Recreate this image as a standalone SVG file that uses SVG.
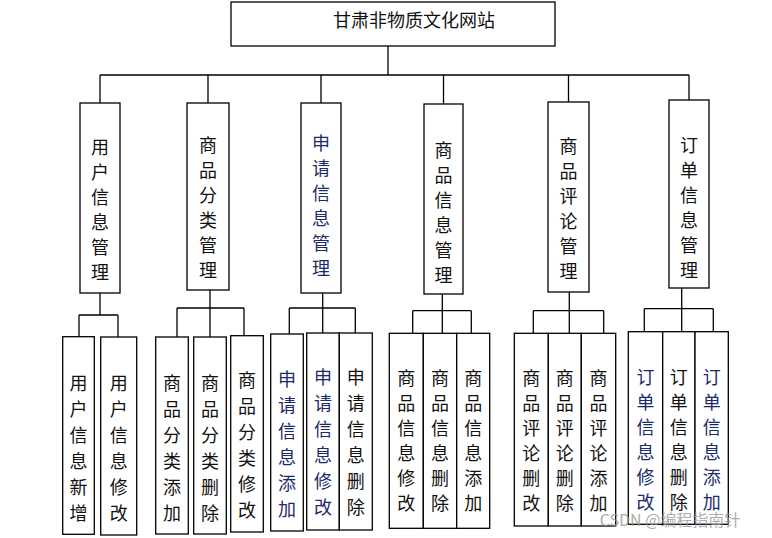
<svg xmlns="http://www.w3.org/2000/svg" width="772" height="538" viewBox="0 0 772 538">
<style>
rect{fill:#fff;stroke:#000;stroke-width:1.3}
#connectors line{stroke:#000;stroke-width:1.3}
text{font-family:"Noto Sans CJK SC","Noto Sans",sans-serif;font-size:18px;text-anchor:middle;fill:#111}
</style>
<rect width="772" height="538" style="stroke:none"/>
<g id="connectors">
<line x1="388" y1="46" x2="388" y2="75"/><line x1="100" y1="75" x2="689" y2="75"/>
<line x1="100" y1="75" x2="100" y2="103"/><line x1="208" y1="75" x2="208" y2="103"/><line x1="321" y1="75" x2="321" y2="103"/><line x1="443.5" y1="75" x2="443.5" y2="104"/><line x1="568.5" y1="75" x2="568.5" y2="102"/><line x1="689" y1="75" x2="689" y2="100"/>
<line x1="100" y1="293" x2="100" y2="315"/><line x1="79" y1="315" x2="118" y2="315"/><line x1="79" y1="315" x2="79" y2="337"/><line x1="118" y1="315" x2="118" y2="337"/>
<line x1="210" y1="290" x2="210" y2="337"/><line x1="177" y1="308" x2="244" y2="308"/><line x1="177" y1="308" x2="177" y2="337"/><line x1="244" y1="308" x2="244" y2="336"/>
<line x1="322.7" y1="293" x2="322.7" y2="333"/><line x1="289.3" y1="308" x2="355.3" y2="308"/><line x1="289.3" y1="308" x2="289.3" y2="334"/><line x1="355.3" y1="308" x2="355.3" y2="333"/>
<line x1="442.3" y1="294" x2="442.3" y2="333"/><line x1="412.7" y1="310.7" x2="471.3" y2="310.7"/><line x1="412.7" y1="310.7" x2="412.7" y2="333"/><line x1="471.3" y1="310.7" x2="471.3" y2="333"/>
<line x1="569.3" y1="292" x2="569.3" y2="333"/><line x1="533.3" y1="310.7" x2="603.7" y2="310.7"/><line x1="533.3" y1="310.7" x2="533.3" y2="333"/><line x1="603.7" y1="310.7" x2="603.7" y2="333"/>
<line x1="681.7" y1="288" x2="681.7" y2="331.7"/><line x1="644.3" y1="308.7" x2="713.3" y2="308.7"/><line x1="644.3" y1="308.7" x2="644.3" y2="331.7"/><line x1="713.3" y1="308.7" x2="713.3" y2="331.7"/>
</g>
<g id="root"><rect x="231" y="2" width="324" height="44"/><text x="414" y="27">甘肃非物质文化网站</text></g>
<g id="m1"><rect x="80" y="103" width="40" height="190"/><text x="100" y="154"><tspan x="100">用</tspan><tspan x="100" dy="25">户</tspan><tspan x="100" dy="25">信</tspan><tspan x="100" dy="25">息</tspan><tspan x="100" dy="25">管</tspan><tspan x="100" dy="25">理</tspan></text></g>
<g id="m2"><rect x="187" y="103" width="42" height="187"/><text x="208" y="152"><tspan x="208">商</tspan><tspan x="208" dy="25">品</tspan><tspan x="208" dy="25">分</tspan><tspan x="208" dy="25">类</tspan><tspan x="208" dy="25">管</tspan><tspan x="208" dy="25">理</tspan></text></g>
<g id="m3"><rect x="301" y="103" width="40" height="190"/><text x="321" y="150" style="fill:#1a2a6a"><tspan x="321">申</tspan><tspan x="321" dy="25">请</tspan><tspan x="321" dy="25">信</tspan><tspan x="321" dy="25">息</tspan><tspan x="321" dy="25">管</tspan><tspan x="321" dy="25">理</tspan></text></g>
<g id="m4"><rect x="424" y="104" width="39" height="190"/><text x="443.5" y="157"><tspan x="443.5">商</tspan><tspan x="443.5" dy="25">品</tspan><tspan x="443.5" dy="25">信</tspan><tspan x="443.5" dy="25">息</tspan><tspan x="443.5" dy="25">管</tspan><tspan x="443.5" dy="25">理</tspan></text></g>
<g id="m5"><rect x="548" y="102" width="41" height="190"/><text x="568.5" y="153"><tspan x="568.5">商</tspan><tspan x="568.5" dy="25">品</tspan><tspan x="568.5" dy="25">评</tspan><tspan x="568.5" dy="25">论</tspan><tspan x="568.5" dy="25">管</tspan><tspan x="568.5" dy="25">理</tspan></text></g>
<g id="m6"><rect x="669" y="100" width="40" height="188"/><text x="689" y="152"><tspan x="689">订</tspan><tspan x="689" dy="25">单</tspan><tspan x="689" dy="25">信</tspan><tspan x="689" dy="25">息</tspan><tspan x="689" dy="25">管</tspan><tspan x="689" dy="25">理</tspan></text></g>
<g id="b1"><rect x="62.7" y="336.7" width="31.6" height="197.6"/><text x="78.5" y="390"><tspan x="78.5">用</tspan><tspan x="78.5" dy="26">户</tspan><tspan x="78.5" dy="26">信</tspan><tspan x="78.5" dy="26">息</tspan><tspan x="78.5" dy="26">新</tspan><tspan x="78.5" dy="26">增</tspan></text></g>
<g id="b2"><rect x="100.7" y="337" width="36" height="198"/><text x="118.7" y="390"><tspan x="118.7">用</tspan><tspan x="118.7" dy="26">户</tspan><tspan x="118.7" dy="26">信</tspan><tspan x="118.7" dy="26">息</tspan><tspan x="118.7" dy="26">修</tspan><tspan x="118.7" dy="26">改</tspan></text></g>
<g id="b3"><rect x="155.7" y="337" width="32.6" height="197"/><text x="172" y="390"><tspan x="172">商</tspan><tspan x="172" dy="26">品</tspan><tspan x="172" dy="26">分</tspan><tspan x="172" dy="26">类</tspan><tspan x="172" dy="26">添</tspan><tspan x="172" dy="26">加</tspan></text></g>
<g id="b4"><rect x="193.7" y="337" width="32.6" height="197"/><text x="210" y="390"><tspan x="210">商</tspan><tspan x="210" dy="26">品</tspan><tspan x="210" dy="26">分</tspan><tspan x="210" dy="26">类</tspan><tspan x="210" dy="26">删</tspan><tspan x="210" dy="26">除</tspan></text></g>
<g id="b5"><rect x="230.7" y="335.7" width="32.6" height="196.3"/><text x="247" y="387"><tspan x="247">商</tspan><tspan x="247" dy="26">品</tspan><tspan x="247" dy="26">分</tspan><tspan x="247" dy="26">类</tspan><tspan x="247" dy="26">修</tspan><tspan x="247" dy="26">改</tspan></text></g>
<g id="b6"><rect x="270.7" y="334" width="32.6" height="197" /><text x="287" y="386" style="fill:#1a2a6a"><tspan x="287">申</tspan><tspan x="287" dy="26">请</tspan><tspan x="287" dy="26">信</tspan><tspan x="287" dy="26">息</tspan><tspan x="287" dy="26">添</tspan><tspan x="287" dy="26">加</tspan></text></g>
<g id="b7"><rect x="306.7" y="333" width="32.6" height="197"/><text x="323" y="384" style="fill:#1a2a6a"><tspan x="323">申</tspan><tspan x="323" dy="26">请</tspan><tspan x="323" dy="26">信</tspan><tspan x="323" dy="26">息</tspan><tspan x="323" dy="26">修</tspan><tspan x="323" dy="26">改</tspan></text></g>
<g id="b8"><rect x="339.3" y="333" width="33" height="197"/><text x="355.8" y="384"><tspan x="355.8">申</tspan><tspan x="355.8" dy="26">请</tspan><tspan x="355.8" dy="26">信</tspan><tspan x="355.8" dy="26">息</tspan><tspan x="355.8" dy="26">删</tspan><tspan x="355.8" dy="26">除</tspan></text></g>
<g id="b9"><rect x="389.3" y="333.3" width="34" height="195"/><text x="406.3" y="385"><tspan x="406.3">商</tspan><tspan x="406.3" dy="25">品</tspan><tspan x="406.3" dy="25">信</tspan><tspan x="406.3" dy="25">息</tspan><tspan x="406.3" dy="25">修</tspan><tspan x="406.3" dy="25">改</tspan></text></g>
<g id="b10"><rect x="423.3" y="333.3" width="33.4" height="195"/><text x="440" y="385"><tspan x="440">商</tspan><tspan x="440" dy="25">品</tspan><tspan x="440" dy="25">信</tspan><tspan x="440" dy="25">息</tspan><tspan x="440" dy="25">删</tspan><tspan x="440" dy="25">除</tspan></text></g>
<g id="b11"><rect x="456.7" y="333.3" width="33" height="195"/><text x="473.2" y="385"><tspan x="473.2">商</tspan><tspan x="473.2" dy="25">品</tspan><tspan x="473.2" dy="25">信</tspan><tspan x="473.2" dy="25">息</tspan><tspan x="473.2" dy="25">添</tspan><tspan x="473.2" dy="25">加</tspan></text></g>
<g id="b12"><rect x="514.3" y="333.3" width="34" height="192.7"/><text x="531.3" y="385"><tspan x="531.3">商</tspan><tspan x="531.3" dy="25">品</tspan><tspan x="531.3" dy="25">评</tspan><tspan x="531.3" dy="25">论</tspan><tspan x="531.3" dy="25">删</tspan><tspan x="531.3" dy="25">改</tspan></text></g>
<g id="b13"><rect x="548.3" y="333.3" width="33" height="192.7"/><text x="564.8" y="385"><tspan x="564.8">商</tspan><tspan x="564.8" dy="25">品</tspan><tspan x="564.8" dy="25">评</tspan><tspan x="564.8" dy="25">论</tspan><tspan x="564.8" dy="25">删</tspan><tspan x="564.8" dy="25">除</tspan></text></g>
<g id="b14"><rect x="581.3" y="333.3" width="34.4" height="192.7"/><text x="598.5" y="385"><tspan x="598.5">商</tspan><tspan x="598.5" dy="25">品</tspan><tspan x="598.5" dy="25">评</tspan><tspan x="598.5" dy="25">论</tspan><tspan x="598.5" dy="25">添</tspan><tspan x="598.5" dy="25">加</tspan></text></g>
<g id="b15"><rect x="628.3" y="331.7" width="34.4" height="192.6"/><text x="645.5" y="384" style="fill:#1a2a6a"><tspan x="645.5">订</tspan><tspan x="645.5" dy="25">单</tspan><tspan x="645.5" dy="25">信</tspan><tspan x="645.5" dy="25">息</tspan><tspan x="645.5" dy="25">修</tspan><tspan x="645.5" dy="25">改</tspan></text></g>
<g id="b16"><rect x="662.7" y="331.7" width="32.3" height="192.6"/><text x="678.8" y="384"><tspan x="678.8">订</tspan><tspan x="678.8" dy="25">单</tspan><tspan x="678.8" dy="25">信</tspan><tspan x="678.8" dy="25">息</tspan><tspan x="678.8" dy="25">删</tspan><tspan x="678.8" dy="25">除</tspan></text></g>
<g id="b17"><rect x="695" y="331.7" width="33.3" height="192.6"/><text x="711.7" y="384" style="fill:#1a2a6a"><tspan x="711.7">订</tspan><tspan x="711.7" dy="25">单</tspan><tspan x="711.7" dy="25">信</tspan><tspan x="711.7" dy="25">息</tspan><tspan x="711.7" dy="25">添</tspan><tspan x="711.7" dy="25">加</tspan></text></g>
<text x="670" y="526" style="font-size:16px;fill:#999;opacity:0.8">CSDN @编程指南针</text>
</svg>
